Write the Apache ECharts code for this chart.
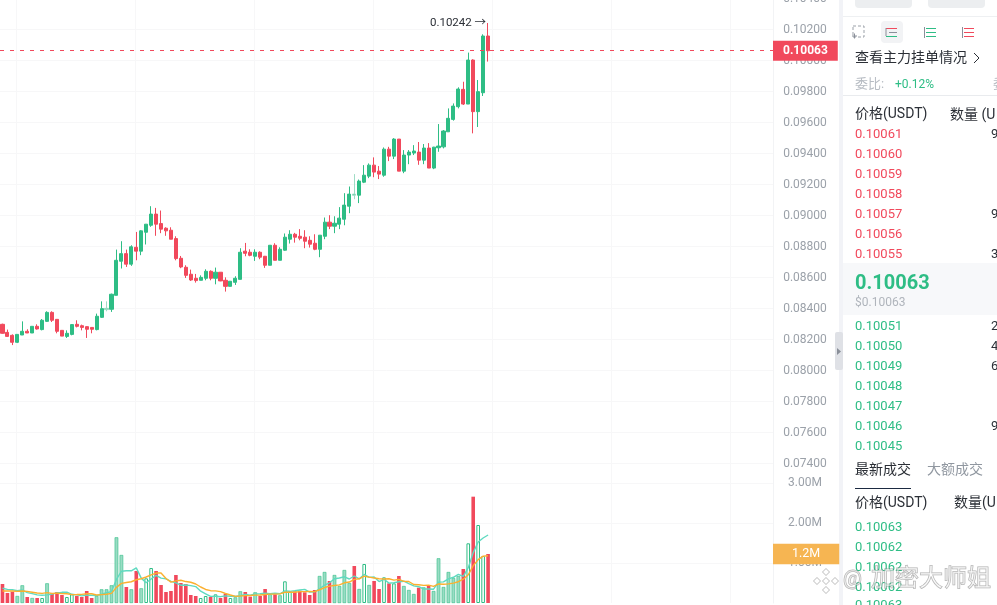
<!DOCTYPE html>
<html><head><meta charset="utf-8">
<style>html,body{margin:0;padding:0;background:#fff;overflow:hidden}#c{width:997px;height:605px}</style>
<script src="https://cdn.jsdelivr.net/npm/echarts@6/dist/echarts.min.js"></script>
</head><body><div id="c"></div>
<script>
const priceTicks = [0.104,0.102,0.100,0.098,0.096,0.094,0.092,0.090,0.088,0.086,0.084,0.082,0.080,0.078,0.076,0.074];
const lastPrice = 0.10063, highPrice = 0.10242, lastVolume = 1.225;
const opens = [0.08298,0.08246,0.08227,0.08182,0.08229,0.08253,0.08242,0.08285,0.08264,0.08317,
0.08375,0.08330,0.08259,0.08220,0.08233,0.08298,0.08289,0.08283,0.08278,0.08264,
0.08343,0.08393,0.08395,0.08485,0.08705,0.08754,0.08686,0.08795,0.08770,0.08892,
0.08937,0.09009,0.08948,0.08918,0.08905,0.08851,0.08724,0.08666,0.08621,0.08595,
0.08582,0.08595,0.08640,0.08595,0.08634,0.08582,0.08543,0.08569,0.08588,0.08770,
0.08763,0.08737,0.08763,0.08737,0.08679,0.08808,0.08711,0.08776,0.08847,0.08879,
0.08866,0.08860,0.08840,0.08821,0.08782,0.08866,0.08957,0.08931,0.08944,0.08976,
0.09060,0.09131,0.09131,0.09215,0.09254,0.09325,0.09286,0.09260,0.09428,0.09383,
0.09493,0.09286,0.09390,0.09403,0.09409,0.09357,0.09435,0.09306,0.09437,0.09443,
0.09540,0.09620,0.09702,0.09814,0.09719,0.10003,0.09670,0.09792,0.10158];
const closes = [0.08240,0.08220,0.08182,0.08233,0.08253,0.08242,0.08285,0.08268,0.08324,0.08375,
0.08324,0.08253,0.08222,0.08240,0.08296,0.08285,0.08278,0.08266,0.08266,0.08350,
0.08399,0.08401,0.08492,0.08711,0.08754,0.08686,0.08798,0.08770,0.08901,0.08944,
0.09009,0.08944,0.08912,0.08901,0.08847,0.08722,0.08668,0.08614,0.08584,0.08580,
0.08601,0.08640,0.08595,0.08634,0.08578,0.08543,0.08576,0.08595,0.08763,0.08756,
0.08743,0.08763,0.08731,0.08679,0.08808,0.08711,0.08782,0.08860,0.08879,0.08860,
0.08853,0.08834,0.08815,0.08782,0.08873,0.08957,0.08931,0.08950,0.08983,0.09067,
0.09138,0.09138,0.09222,0.09260,0.09325,0.09280,0.09267,0.09428,0.09383,0.09493,
0.09286,0.09390,0.09409,0.09416,0.09357,0.09435,0.09306,0.09441,0.09448,0.09545,
0.09627,0.09706,0.09816,0.09719,0.10003,0.09670,0.09799,0.10158,0.10063];
const lows = [0.08238,0.08216,0.08164,0.08177,0.08229,0.08242,0.08242,0.08264,0.08259,0.08313,
0.08313,0.08240,0.08222,0.08210,0.08227,0.08278,0.08259,0.08210,0.08240,0.08259,
0.08339,0.08382,0.08378,0.08485,0.08658,0.08668,0.08675,0.08711,0.08744,0.08813,
0.08927,0.08869,0.08886,0.08869,0.08847,0.08711,0.08660,0.08597,0.08578,0.08567,
0.08582,0.08582,0.08582,0.08556,0.08576,0.08509,0.08543,0.08552,0.08588,0.08737,
0.08737,0.08707,0.08718,0.08662,0.08679,0.08711,0.08711,0.08772,0.08819,0.08825,
0.08840,0.08789,0.08793,0.08776,0.08731,0.08847,0.08912,0.08886,0.08912,0.08937,
0.09015,0.09105,0.09080,0.09209,0.09241,0.09247,0.09235,0.09250,0.09351,0.09364,
0.09286,0.09273,0.09331,0.09390,0.09327,0.09331,0.09306,0.09299,0.09411,0.09433,
0.09540,0.09612,0.09691,0.09713,0.09719,0.09530,0.09571,0.09771,0.09993];
const highs = [0.08302,0.08264,0.08233,0.08233,0.08317,0.08266,0.08285,0.08298,0.08332,0.08382,
0.08382,0.08330,0.08259,0.08259,0.08300,0.08324,0.08296,0.08285,0.08278,0.08367,
0.08446,0.08446,0.08496,0.08780,0.08834,0.08780,0.08808,0.08894,0.08905,0.08944,
0.09060,0.09049,0.09032,0.08924,0.08924,0.08866,0.08739,0.08679,0.08651,0.08623,
0.08614,0.08653,0.08646,0.08664,0.08634,0.08601,0.08576,0.08608,0.08789,0.08823,
0.08782,0.08782,0.08769,0.08739,0.08808,0.08821,0.08795,0.08884,0.08905,0.08888,
0.08912,0.08905,0.08866,0.08879,0.08873,0.08987,0.09002,0.08995,0.09054,0.09144,
0.09187,0.09267,0.09232,0.09325,0.09336,0.09375,0.09319,0.09439,0.09443,0.09499,
0.09493,0.09422,0.09422,0.09454,0.09474,0.09461,0.09467,0.09443,0.09590,0.09551,
0.09691,0.09723,0.09827,0.09863,0.10051,0.10008,0.09874,0.10169,0.10242];
const volumes = [0.475,0.25,0.283,0.175,0.442,0.15,0.125,0.125,0.125,0.492,
0.242,0.275,0.2,0.15,0.217,0.175,0.15,0.3,0.125,0.175,
0.342,0.342,0.442,1.642,1.2,0.4,0.342,0.8,0.367,0.617,
0.875,0.8,0.45,0.275,0.3,0.7,0.5,0.475,0.2,0.175,
0.125,0.175,0.15,0.217,0.125,0.225,0.125,0.142,0.292,0.275,
0.158,0.267,0.175,0.35,0.217,0.217,0.192,0.542,0.292,0.292,
0.308,0.267,0.2,0.325,0.675,0.775,0.55,0.7,0.425,0.825,
0.5,0.925,0.35,0.975,0.45,0.55,0.35,0.642,0.492,0.492,
0.675,0.425,0.325,0.225,0.383,0.392,0.425,0.3,1.117,0.4,
0.775,0.625,0.675,0.85,1.492,2.658,1.95,1.175,1.225];
const volumeDown = [0,1,2,5,7,10,11,12,15,16,17,18,25,27,31,32,33,34,35,36,37,38,39,42,44,45,49,50,52,53,55,59,60,61,62,63,66,71,75,76,78,80,84,86,93,95,98];
const volumeHollow = [8,13,14,29,30,40,41,43,46,57,58,73,77,79,94,96,97];
const paleCandles = [21,71];
const ma5 = [0.37,0.34,0.33,0.31,0.325,0.26,0.235,0.203,0.193,0.203,
0.222,0.252,0.267,0.272,0.217,0.203,0.178,0.198,0.193,0.185,
0.218,0.257,0.285,0.589,0.794,0.805,0.805,0.877,0.622,0.505,
0.6,0.692,0.622,0.603,0.54,0.505,0.445,0.45,0.435,0.41,
0.295,0.23,0.165,0.168,0.158,0.178,0.168,0.167,0.182,0.212,
0.198,0.227,0.233,0.245,0.233,0.245,0.23,0.304,0.292,0.307,
0.325,0.34,0.272,0.278,0.355,0.448,0.505,0.605,0.625,0.655,
0.6,0.675,0.605,0.715,0.64,0.65,0.535,0.593,0.497,0.505,
0.53,0.545,0.482,0.428,0.407,0.35,0.35,0.345,0.523,0.527,
0.603,0.643,0.718,0.665,0.883,1.26,1.525,1.625,1.7];
const ma10 = [0.30,0.30,0.30,0.29,0.30,0.29,0.27,0.25,0.24,0.26,
0.241,0.243,0.235,0.232,0.21,0.212,0.215,0.232,0.232,0.201,
0.21,0.218,0.241,0.391,0.49,0.512,0.531,0.581,0.606,0.65,
0.703,0.749,0.75,0.613,0.523,0.553,0.569,0.536,0.519,0.475,
0.4,0.338,0.308,0.302,0.284,0.237,0.199,0.166,0.175,0.185,
0.188,0.198,0.2,0.214,0.223,0.222,0.229,0.269,0.269,0.27,
0.285,0.285,0.288,0.285,0.331,0.387,0.423,0.439,0.452,0.505,
0.524,0.59,0.605,0.67,0.648,0.625,0.605,0.599,0.606,0.573,
0.59,0.54,0.538,0.463,0.456,0.44,0.448,0.414,0.476,0.467,
0.477,0.497,0.532,0.594,0.705,0.932,1.084,1.172,1.183];
const bandCount = 156;
const categories = Array.from({length: bandCount}, (_, i) => String(i));

const askPrices = ['0.10061','0.10060','0.10059','0.10058','0.10057','0.10056','0.10055'];
const askQty = ['9','','','','9','','3'];
const bidPrices = ['0.10051','0.10050','0.10049','0.10048','0.10047','0.10046','0.10045'];
const bidQty = ['2','4','6','','','9',''];
const tradePrices = ['0.10063','0.10062','0.10062','0.10062','0.10063'];

const UP = '#2ebd85', DOWN = '#f1495c', GRID = '#f7f7f8', AXIS = '#9ba1a9';
const FONT = 'Roboto, "Noto Sans CJK SC", sans-serif';
const txt = (text, x, y, fill, size, extra) => ({type:'text', z:10, silent:true, style:Object.assign({text, x, y, fill, font:`${(extra&&extra.weight)||400} ${size}px ${FONT}`, textVerticalAlign:'middle', textAlign:'left'}, extra&&extra.style)});
const rect = (x, y, width, height, fill, r) => ({type:'rect', z:1, silent:true, shape:{x, y, width, height, r:r||0}, style:{fill}});
const seg = (x1, y1, x2, y2, stroke, w) => ({type:'line', z:10, silent:true, shape:{x1, y1, x2, y2}, style:{stroke, lineWidth:w||1}});
const diamond = (cx, cy, r) => ({type:'polygon', z:100, silent:true, shape:{points:[[cx,cy-r],[cx+r,cy],[cx,cy+r],[cx-r,cy]]}, style:{fill:'rgba(255,255,255,0.6)', stroke:'rgba(130,130,130,0.55)', lineWidth:1}});

const graphics = [
  rect(839,0,4,605,'#f2f3f7'),
  rect(835,332,8,38,'#dfe1e6',2),
  {type:'polygon', z:10, silent:true, shape:{points:[[837,348],[841,351.5],[837,355]]}, style:{fill:'#8a8f99'}},
  rect(855,-6,57,14,'#eceef0',4), rect(928,-6,57,14,'#eceef0',4),
  seg(843,16.5,997,16.5,'#eef0f2'), seg(843,95.5,997,95.5,'#e9ebee'),
  rect(881,21,22,22,'#f2f3f5',4),
  {type:'rect', z:10, silent:true, shape:{x:853,y:26,width:11,height:11}, style:{fill:'none', stroke:'#9ba1a9', lineWidth:1, lineDash:[3,2]}},
  seg(852,36,857,36,'#8a8f99'), seg(854.5,33.5,854.5,38.5,'#8a8f99'),
  seg(886,28.5,897,28.5,DOWN), seg(886,28,886,36,'#8a8f99'), seg(886,36.5,897,36.5,UP), seg(889,32.5,897,32.5,'#8a8f99'),
  seg(924.5,27,924.5,38,'#8a8f99'), seg(926,28.5,936,28.5,UP), seg(926,32.5,936,32.5,UP), seg(926,36.5,936,36.5,UP),
  seg(962.5,27,962.5,38,'#8a8f99'), seg(964,28.5,974,28.5,DOWN), seg(964,32.5,974,32.5,DOWN), seg(964,36.5,974,36.5,DOWN),
  txt('查看主力挂单情况',855,58.5,'#2b2f36',14),
  seg(974,53,979,58,'#2b2f36'), seg(979,58,974,63,'#2b2f36'),
  txt('委比:',855,84.5,'#b7bcc3',13), txt('+0.12%',895,84.5,UP,12), txt('委',993,84.5,'#b7bcc3',13),
  txt('价格(USDT)',855,114,'#2b2f36',14), txt('数量 (U',950,115,'#2b2f36',14),
  rect(843,263,154,52,'#f7f8fa'),
  txt('0.10063',855,283.5,UP,20,{weight:700}), txt('$0.10063',855,303,'#b0b5bc',12),
  txt('最新成交',855,470.5,'#2b2f36',14), txt('大额成交',927,470.5,'#9097a0',14),
  seg(855,488.5,911,488.5,'#1b2a41'),
  txt('价格(USDT)',855,503,'#2b2f36',14), txt('数量(U',954,503,'#2b2f36',14),
];
askPrices.forEach((p,i)=>{const y=134.5+20*i; graphics.push(txt(p,855,y,DOWN,13)); if(askQty[i]) graphics.push(txt(askQty[i],991,y,'#2b2f36',13));});
bidPrices.forEach((p,i)=>{const y=326.5+20*i; graphics.push(txt(p,855,y,UP,13)); if(bidQty[i]) graphics.push(txt(bidQty[i],991,y,'#2b2f36',13));});
tradePrices.forEach((p,i)=>graphics.push(txt(p,855,527.5+20*i-(i===4?2:0),UP,13)));
// watermark
graphics.push(diamond(826,581,3.5), diamond(826,572,3.5), diamond(826,590,3.5), diamond(817,581,3.5), diamond(835,581,3.5));
graphics.push({type:'text', z:100, silent:true, style:{text:'@', x:843, y:580, font:`400 21px ${FONT}`, fill:'rgba(255,255,255,0.5)', stroke:'rgba(120,120,120,0.6)', lineWidth:1, textVerticalAlign:'middle'}});
graphics.push({type:'text', z:100, silent:true, style:{text:'加密大师姐', x:871, y:580, font:`400 24px ${FONT}`, fill:'rgba(255,255,255,0.5)', stroke:'rgba(120,120,120,0.6)', lineWidth:1, textVerticalAlign:'middle'}});

const candleData = opens.map((o,i)=>{
  const value=[o,closes[i],lows[i],highs[i]];
  return paleCandles.includes(i) ? {value,itemStyle:{borderColor:'#9fdcc5',color:UP}} : value;
});
const volumeData = volumes.map((v,i)=>{
  if (volumeDown.includes(i)) return {value:v,itemStyle:{color:DOWN,borderColor:DOWN,borderWidth:0}};
  return {value:v,itemStyle:{color:volumeHollow.includes(i)?'#ffffff':'#9adcc4',borderColor:UP,borderWidth:volumeHollow.includes(i)?1:0.6}};
});

const chart = echarts.init(document.getElementById('c'), null, {renderer:'canvas'});
chart.setOption({
  animation:false, backgroundColor:'#fff', textStyle:{fontFamily:FONT},
  graphic:{elements:graphics},
  grid:[
    {left:0, width:773, top:-1.5, height:496, outerBoundsMode:'none'},
    {left:0, width:773, top:483, height:120, outerBoundsMode:'none'},
    {left:16, width:714, top:0, height:603, outerBoundsMode:'none'},
  ],
  xAxis:[
    {type:'category', gridIndex:0, data:categories, boundaryGap:true, axisLine:{show:false}, axisTick:{show:false}, axisLabel:{show:false}, splitLine:{show:false}},
    {type:'category', gridIndex:1, data:categories, boundaryGap:true, axisLine:{show:false}, axisTick:{show:false}, axisLabel:{show:false}, splitLine:{show:false}},
    {type:'value', gridIndex:2, min:0, max:714, interval:119, axisLine:{show:false}, axisTick:{show:false}, axisLabel:{show:false}, splitLine:{show:true,lineStyle:{color:GRID}}},
  ],
  yAxis:[
    {type:'value', gridIndex:0, position:'right', min:0.072, max:priceTicks[0], interval:0.002, scale:true,
      axisLine:{show:true,lineStyle:{color:'#f2f3f5'}}, axisTick:{show:false},
      splitLine:{show:true,showMinLine:false,lineStyle:{color:GRID}},
      axisLabel:{show:true,showMinLabel:false,showMaxLabel:true,color:AXIS,fontSize:12,fontFamily:FONT,align:'center',margin:32,lineHeight:14,padding:[3,0,0,0],formatter:v=>v.toFixed(5)}},
    {type:'value', gridIndex:1, position:'right', min:0, max:3, interval:1,
      axisLine:{show:true,lineStyle:{color:'#f2f3f5'}}, axisTick:{show:false},
      splitLine:{show:true,showMinLine:false,lineStyle:{color:GRID}},
      axisLabel:{show:true,showMinLabel:false,color:AXIS,fontSize:12,fontFamily:FONT,align:'center',margin:32,lineHeight:14,padding:[5,0,0,0],formatter:v=>v.toFixed(2)+'M'}},
    {type:'value', gridIndex:2, min:0, max:1, show:false},
  ],
  series:[
    {type:'candlestick', xAxisIndex:0, yAxisIndex:0, data:candleData, barWidth:3.6, z:3,
      itemStyle:{color:UP,color0:DOWN,borderColor:UP,borderColor0:DOWN,borderWidth:1},
      markLine:{silent:true, symbol:'none', animation:false, z:8, precision:5,
        lineStyle:{color:DOWN,type:[4,6],width:1},
        label:{show:true,position:'end',distance:0,color:'#fff',fontWeight:700,fontSize:12,fontFamily:FONT,backgroundColor:DOWN,padding:[4,10,4,10],formatter:()=>lastPrice.toFixed(5)},
        data:[{yAxis:lastPrice}]},
      markPoint:{silent:true, symbol:'circle', symbolSize:0, animation:false,
        label:{show:true,position:'left',distance:2,color:'#2b2f36',fontSize:11.5,fontFamily:FONT,formatter:()=>highPrice.toFixed(5)+' →'},
        data:[{coord:[98,highPrice]}]}},
    {type:'bar', xAxisIndex:1, yAxisIndex:1, data:volumeData, barWidth:3.6, z:3,
      markLine:{silent:true, symbol:'none', animation:false, z:8, precision:3,
        lineStyle:{color:'rgba(0,0,0,0)'},
        label:{show:true,position:'end',distance:0,color:'#fff',fontSize:12.5,fontFamily:FONT,backgroundColor:'#f6b552',padding:[4,19,4,19],formatter:()=>'1.2M'},
        data:[{yAxis:lastVolume}]}},
    {type:'line', xAxisIndex:1, yAxisIndex:1, data:ma5, showSymbol:false, z:4, lineStyle:{color:'#5fdac0',width:1.4}},
    {type:'line', xAxisIndex:1, yAxisIndex:1, data:ma10, showSymbol:false, z:5, lineStyle:{color:'#fbb02f',width:1.4}},
  ]
});
</script></body></html>
